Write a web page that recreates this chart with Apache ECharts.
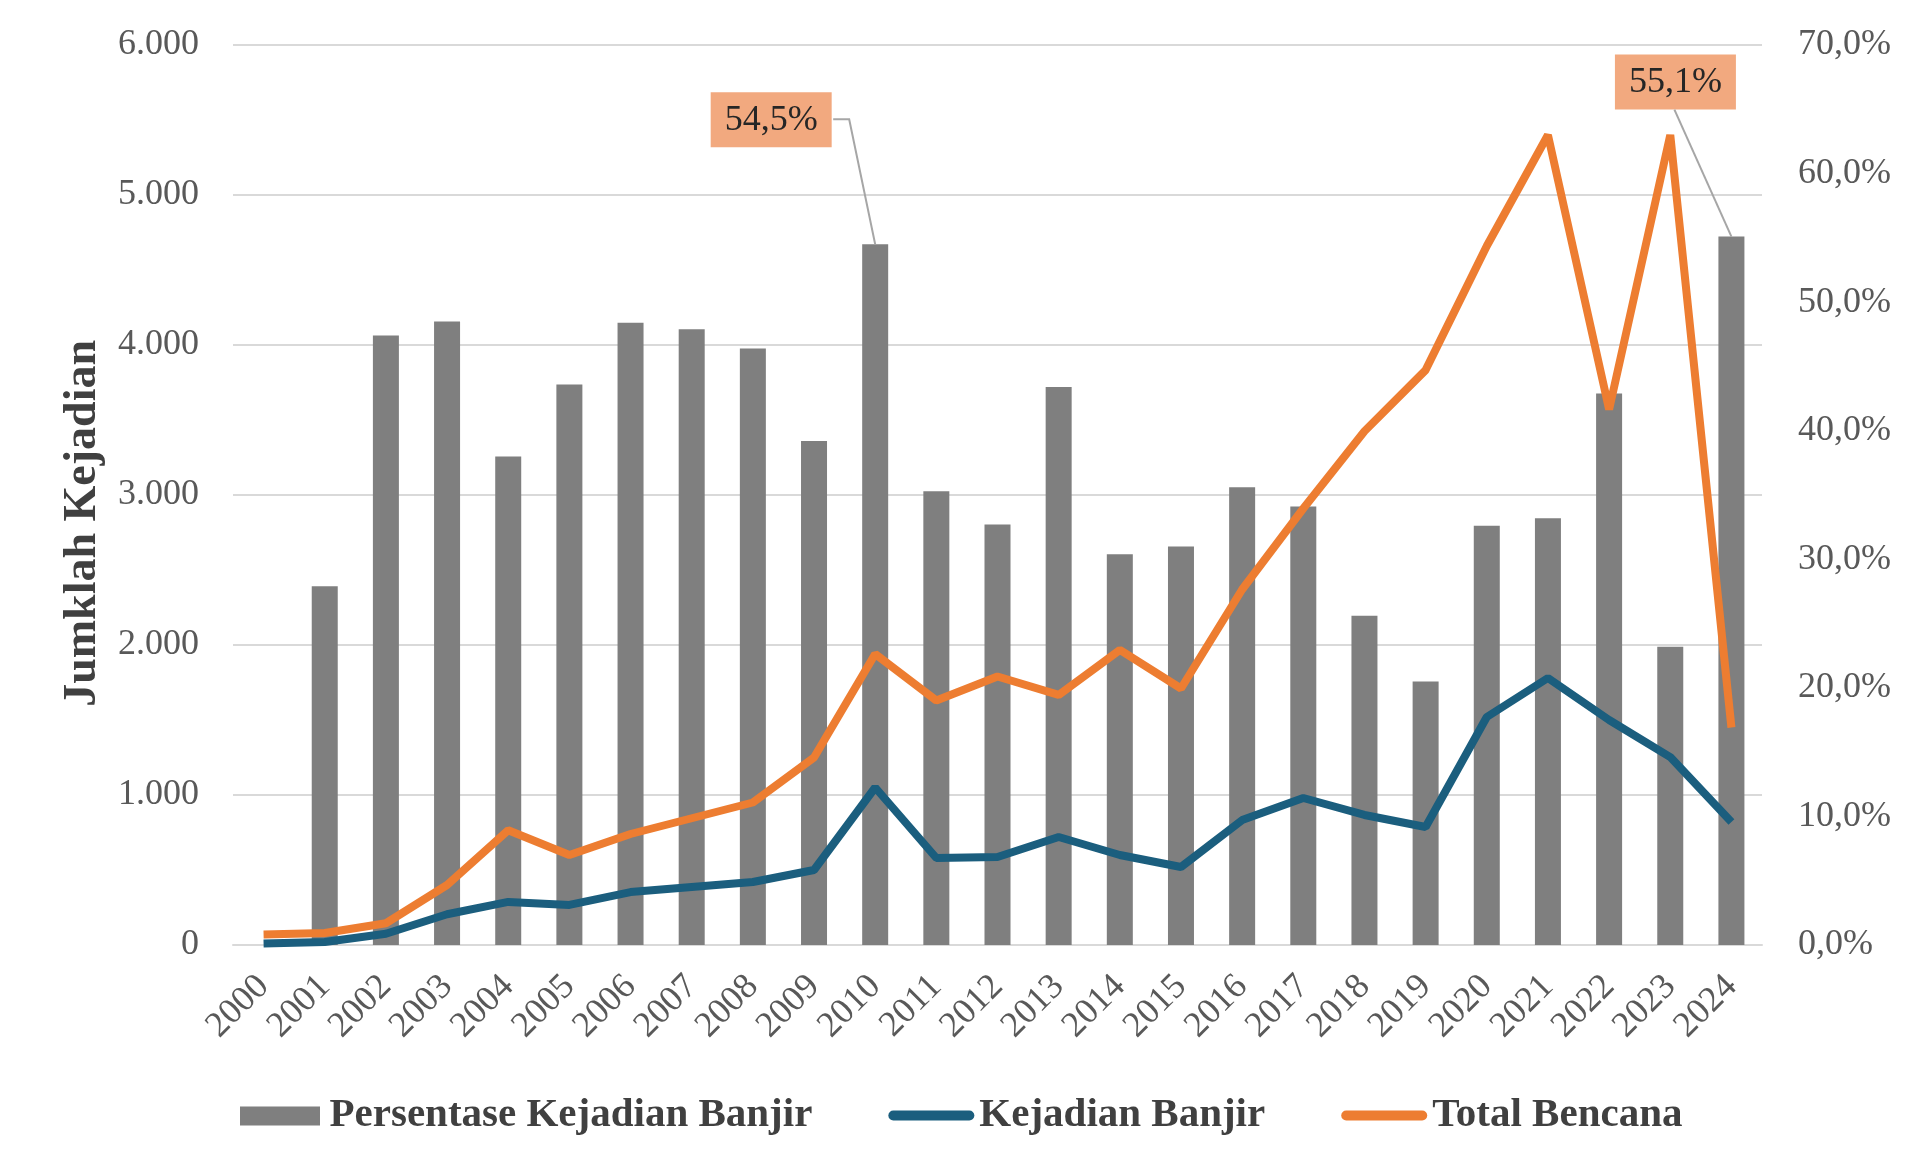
<!DOCTYPE html>
<html>
<head>
<meta charset="utf-8">
<script src="https://cdn.jsdelivr.net/npm/echarts@6/dist/echarts.min.js"></script>
<style>
html,body{margin:0;padding:0;background:#fff;}
#chart{width:1920px;height:1171px;}
</style>
</head>
<body>
<div id="chart"></div>
<script>
const years = ['2000','2001','2002','2003','2004','2005','2006','2007','2008','2009','2010','2011','2012','2013','2014','2015','2016','2017','2018','2019','2020','2021','2022','2023','2024'];
// Persentase Kejadian Banjir (%), right axis
const persentase = [0, 27.9, 47.4, 48.5, 38.0, 43.6, 48.4, 47.9, 46.4, 39.2, 54.5, 35.3, 32.7, 43.4, 30.4, 31.0, 35.6, 34.1, 25.6, 20.5, 32.6, 33.2, 42.9, 23.2, 55.1];
// Kejadian Banjir, left axis
const kejadianBanjir = [10, 20, 75, 205, 287, 267, 353, 387, 420, 500, 1050, 580, 587, 720, 600, 520, 833, 980, 867, 787, 1520, 1780, 1500, 1253, 820];
// Total Bencana, left axis
const totalBencana = [70, 80, 145, 400, 765, 600, 740, 845, 950, 1250, 1940, 1630, 1790, 1667, 1967, 1710, 2370, 2910, 3425, 3833, 4660, 5400, 3570, 5400, 1450];
const leftTicks = [0, 1000, 2000, 3000, 4000, 5000, 6000];
const rightTicks = [0, 10, 20, 30, 40, 50, 60, 70];
const annotatedYears = ['2010', '2024'];

const FONT = 'Liberation Serif';
const pct = v => v.toFixed(1).replace('.', ',') + '%';
const thou = v => String(v).replace(/\B(?=(\d{3})+(?!\d))/g, '.');

const chart = echarts.init(document.getElementById('chart'));

// label box offsets and leader-line bends (pixels, relative to bar top)
const labelOffsets = { '2010': { dx: -104, dy: -97 }, '2024': { dx: -56, dy: -127 } };
const leaderBends = {
  '2010': [[-42, -125], [-26, -125], [0, 0]],
  '2024': [[-57, -127], [0, 0]]
};

const barData = persentase.map((v, i) => {
  if (annotatedYears.indexOf(years[i]) >= 0) {
    return {
      value: v,
      label: {
        show: true,
        position: 'top',
        distance: 0,
        formatter: p => pct(p.value),
        fontFamily: FONT,
        fontSize: 36,
        color: '#262626',
        backgroundColor: '#F2A97F',
        padding: [8, 14, 7, 14],
        lineHeight: 40
      }
    };
  }
  return v;
});

const lineIcon = 'path://M0,0 M5,5 L81,5 A5,5 0 0 1 81,15 L5,15 A5,5 0 0 1 5,5 Z M86,20';
const barIcon = 'path://M0,1 L80,1 L80,20 L0,20 Z M83,0';

chart.setOption({
  animation: false,
  backgroundColor: '#ffffff',
  grid: { left: 233, right: 158, top: 45, bottom: 226, containLabel: false },
  legend: {
    left: 235,
    top: 1090,
    itemWidth: 86,
    itemHeight: 20,
    itemGap: 76,
    textStyle: { fontFamily: FONT, fontSize: 41, fontWeight: 'bold', color: '#404040' },
    data: [
      { name: 'Persentase Kejadian Banjir', icon: barIcon, itemStyle: { color: '#7F7F7F', borderWidth: 0 } },
      { name: 'Kejadian Banjir', icon: lineIcon, itemStyle: { color: '#1B5E7E', borderWidth: 0 } },
      { name: 'Total Bencana', icon: lineIcon, itemStyle: { color: '#ED7D31', borderWidth: 0 } }
    ]
  },
  xAxis: {
    type: 'category',
    data: years,
    boundaryGap: true,
    axisLine: { show: true, lineStyle: { color: '#D9D9D9', width: 2 } },
    axisTick: { show: false },
    axisLabel: { rotate: 45, margin: 36, fontFamily: FONT, fontSize: 36, color: '#595959', interval: 0 }
  },
  yAxis: [
    {
      type: 'value',
      min: leftTicks[0],
      max: leftTicks[leftTicks.length - 1],
      interval: 1000,
      axisLine: { show: false },
      axisTick: { show: false },
      splitLine: { show: true, lineStyle: { color: '#D9D9D9', width: 2 } },
      axisLabel: { margin: 34, fontFamily: FONT, fontSize: 36, color: '#595959', formatter: thou }
    },
    {
      type: 'value',
      min: rightTicks[0],
      max: rightTicks[rightTicks.length - 1],
      interval: 10,
      position: 'right',
      axisLine: { show: false },
      axisTick: { show: false },
      splitLine: { show: false },
      axisLabel: { margin: 36, fontFamily: FONT, fontSize: 36, color: '#595959', formatter: pct }
    }
  ],
  series: [
    {
      name: 'Persentase Kejadian Banjir',
      type: 'bar',
      yAxisIndex: 1,
      barWidth: 26,
      itemStyle: { color: '#7F7F7F' },
      data: barData,
      labelLayout: function (params) {
        const y = years[params.dataIndex];
        return labelOffsets[y] || {};
      },
      z: 1
    },
    {
      name: 'Kejadian Banjir',
      type: 'line',
      yAxisIndex: 0,
      data: kejadianBanjir,
      symbol: 'none',
      lineStyle: { color: '#1B5E7E', width: 8 },
      itemStyle: { color: '#1B5E7E' },
      z: 3
    },
    {
      name: 'Total Bencana',
      type: 'line',
      yAxisIndex: 0,
      data: totalBencana,
      symbol: 'none',
      lineStyle: { color: '#ED7D31', width: 8 },
      itemStyle: { color: '#ED7D31' },
      z: 4
    }
  ]
});

// Leader lines from label boxes to bar tops, positioned via the chart's own scales
const graphics = [
  {
    type: 'text',
    left: 60,
    top: 340,
    rotation: Math.PI / 2,
    style: {
      text: 'Jumklah Kejadian',
      fontFamily: FONT,
      fontSize: 46,
      fontWeight: 'bold',
      fill: '#404040'
    }
  }
];
annotatedYears.forEach(y => {
  const i = years.indexOf(y);
  const top = chart.convertToPixel({ xAxisIndex: 0, yAxisIndex: 1 }, [y, persentase[i]]);
  graphics.push({
    type: 'polyline',
    z: 5,
    shape: { points: leaderBends[y].map(o => [top[0] + o[0], top[1] + o[1]]) },
    style: { stroke: '#A6A6A6', lineWidth: 2, fill: null }
  });
});
chart.setOption({ graphic: graphics });
</script>
</body>
</html>
